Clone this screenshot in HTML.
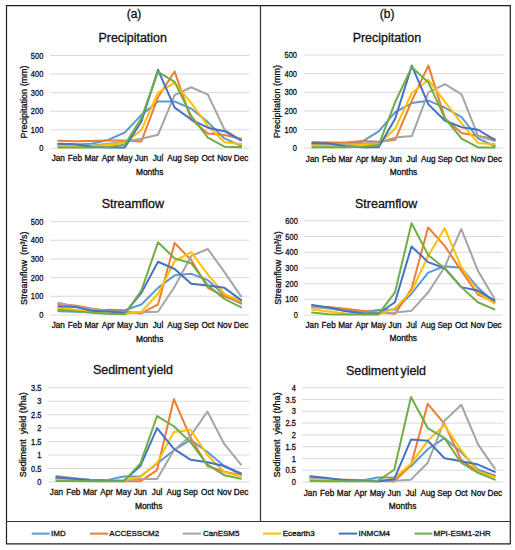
<!DOCTYPE html><html><head><meta charset="utf-8"><style>html,body{margin:0;padding:0;background:#fff;}svg{display:block;}text{white-space:pre;font-family:"Liberation Sans", sans-serif;fill:#111;stroke:#111;}.sm{stroke-width:0.3px}.ti{stroke-width:0.3px;word-spacing:-1.5px}</style></head><body>
<svg width="515" height="550" viewBox="0 0 515 550">
<rect x="0" y="0" width="515" height="550" fill="#fff"/>
<text x="0" y="0" font-size="8.6" text-anchor="end" class="sm" transform="translate(43.3,151.4) scale(0.87,1)">0</text>
<text x="0" y="0" font-size="8.6" text-anchor="end" class="sm" transform="translate(43.3,132.84) scale(0.87,1)">100</text>
<text x="0" y="0" font-size="8.6" text-anchor="end" class="sm" transform="translate(43.3,114.28) scale(0.87,1)">200</text>
<text x="0" y="0" font-size="8.6" text-anchor="end" class="sm" transform="translate(43.3,95.72) scale(0.87,1)">300</text>
<text x="0" y="0" font-size="8.6" text-anchor="end" class="sm" transform="translate(43.3,77.16) scale(0.87,1)">400</text>
<text x="0" y="0" font-size="8.6" text-anchor="end" class="sm" transform="translate(43.3,58.6) scale(0.87,1)">500</text>
<g stroke="#D9D9D9" stroke-width="1.0"><line x1="50" y1="148.3" x2="249.4" y2="148.3"/><line x1="50" y1="129.74" x2="249.4" y2="129.74"/><line x1="50" y1="111.18" x2="249.4" y2="111.18"/><line x1="50" y1="92.62" x2="249.4" y2="92.62"/><line x1="50" y1="74.06" x2="249.4" y2="74.06"/><line x1="50" y1="55.5" x2="249.4" y2="55.5"/></g>
<text x="58.31" y="161.4" font-size="8.2" text-anchor="middle" class="sm">Jan</text>
<text x="74.92" y="161.4" font-size="8.2" text-anchor="middle" class="sm">Feb</text>
<text x="91.54" y="161.4" font-size="8.2" text-anchor="middle" class="sm">Mar</text>
<text x="108.16" y="161.4" font-size="8.2" text-anchor="middle" class="sm">Apr</text>
<text x="124.78" y="161.4" font-size="8.2" text-anchor="middle" class="sm">May</text>
<text x="141.39" y="161.4" font-size="8.2" text-anchor="middle" class="sm">Jun</text>
<text x="158.01" y="161.4" font-size="8.2" text-anchor="middle" class="sm">Jul</text>
<text x="174.62" y="161.4" font-size="8.2" text-anchor="middle" class="sm">Aug</text>
<text x="191.24" y="161.4" font-size="8.2" text-anchor="middle" class="sm">Sep</text>
<text x="207.86" y="161.4" font-size="8.2" text-anchor="middle" class="sm">Oct</text>
<text x="224.47" y="161.4" font-size="8.2" text-anchor="middle" class="sm">Nov</text>
<text x="241.09" y="161.4" font-size="8.2" text-anchor="middle" class="sm">Dec</text>
<polyline points="58.31,144.22 74.92,144.59 91.54,143.66 108.16,139.95 124.78,132.52 141.39,114.89 158.01,101.53 174.62,101.53 191.24,108.58 207.86,122.13 224.47,138.46 241.09,145.89" fill="none" stroke="#5B9BD5" stroke-width="2.0" stroke-linejoin="round" stroke-linecap="round"/>
<polyline points="58.31,140.69 74.92,141.25 91.54,140.88 108.16,140.5 124.78,140.5 141.39,141.43 158.01,97.26 174.62,71.46 191.24,119.53 207.86,133.45 224.47,134.94 241.09,138.83" fill="none" stroke="#ED7D31" stroke-width="2.0" stroke-linejoin="round" stroke-linecap="round"/>
<polyline points="58.31,146.07 74.92,146.07 91.54,145.52 108.16,143.66 124.78,141.43 141.39,138.83 158.01,134.75 174.62,95.03 191.24,87.24 207.86,94.66 224.47,129.55 241.09,140.32" fill="none" stroke="#A5A5A5" stroke-width="2.0" stroke-linejoin="round" stroke-linecap="round"/>
<polyline points="58.31,145.52 74.92,145.89 91.54,146.26 108.16,144.77 124.78,142.73 141.39,130.11 158.01,92.62 174.62,82.6 191.24,103.01 207.86,125.84 224.47,142.18 241.09,144.03" fill="none" stroke="#FFC000" stroke-width="2.0" stroke-linejoin="round" stroke-linecap="round"/>
<polyline points="58.31,143.85 74.92,144.22 91.54,146.82 108.16,147.56 124.78,147.56 141.39,121.57 158.01,69.79 174.62,107.65 191.24,119.53 207.86,127.7 224.47,131.22 241.09,140.32" fill="none" stroke="#4472C4" stroke-width="2.0" stroke-linejoin="round" stroke-linecap="round"/>
<polyline points="58.31,147.56 74.92,147.56 91.54,147.56 108.16,147 124.78,144.77 141.39,118.05 158.01,71.83 174.62,81.86 191.24,115.82 207.86,137.72 224.47,146.63 241.09,147.37" fill="none" stroke="#70AD47" stroke-width="2.0" stroke-linejoin="round" stroke-linecap="round"/>
<text x="132.7" y="42" font-size="12.45" text-anchor="middle" class="ti">Precipitation</text>
<text x="149.7" y="174.7" font-size="8.4" text-anchor="middle" class="sm">Months</text>
<text x="0" y="0" font-size="9.0" text-anchor="middle" class="sm" transform="translate(26.87,101.9) rotate(-90)">Precipitation (mm)</text>
<text x="134" y="18.2" font-size="12.0" text-anchor="middle" class="ti">(a)</text>
<text x="0" y="0" font-size="8.6" text-anchor="end" class="sm" transform="translate(43.3,318) scale(0.87,1)">0</text>
<text x="0" y="0" font-size="8.6" text-anchor="end" class="sm" transform="translate(43.3,299.34) scale(0.87,1)">100</text>
<text x="0" y="0" font-size="8.6" text-anchor="end" class="sm" transform="translate(43.3,280.68) scale(0.87,1)">200</text>
<text x="0" y="0" font-size="8.6" text-anchor="end" class="sm" transform="translate(43.3,262.02) scale(0.87,1)">300</text>
<text x="0" y="0" font-size="8.6" text-anchor="end" class="sm" transform="translate(43.3,243.36) scale(0.87,1)">400</text>
<text x="0" y="0" font-size="8.6" text-anchor="end" class="sm" transform="translate(43.3,224.7) scale(0.87,1)">500</text>
<g stroke="#D9D9D9" stroke-width="1.0"><line x1="50" y1="314.9" x2="249.4" y2="314.9"/><line x1="50" y1="296.24" x2="249.4" y2="296.24"/><line x1="50" y1="277.58" x2="249.4" y2="277.58"/><line x1="50" y1="258.92" x2="249.4" y2="258.92"/><line x1="50" y1="240.26" x2="249.4" y2="240.26"/><line x1="50" y1="221.6" x2="249.4" y2="221.6"/></g>
<text x="58.31" y="328.2" font-size="8.2" text-anchor="middle" class="sm">Jan</text>
<text x="74.92" y="328.2" font-size="8.2" text-anchor="middle" class="sm">Feb</text>
<text x="91.54" y="328.2" font-size="8.2" text-anchor="middle" class="sm">Mar</text>
<text x="108.16" y="328.2" font-size="8.2" text-anchor="middle" class="sm">Apr</text>
<text x="124.78" y="328.2" font-size="8.2" text-anchor="middle" class="sm">May</text>
<text x="141.39" y="328.2" font-size="8.2" text-anchor="middle" class="sm">Jun</text>
<text x="158.01" y="328.2" font-size="8.2" text-anchor="middle" class="sm">Jul</text>
<text x="174.62" y="328.2" font-size="8.2" text-anchor="middle" class="sm">Aug</text>
<text x="191.24" y="328.2" font-size="8.2" text-anchor="middle" class="sm">Sep</text>
<text x="207.86" y="328.2" font-size="8.2" text-anchor="middle" class="sm">Oct</text>
<text x="224.47" y="328.2" font-size="8.2" text-anchor="middle" class="sm">Nov</text>
<text x="241.09" y="328.2" font-size="8.2" text-anchor="middle" class="sm">Dec</text>
<polyline points="58.31,311.17 74.92,311.73 91.54,311.54 108.16,309.68 124.78,310.23 141.39,304.45 158.01,287.84 174.62,275.34 191.24,273.85 207.86,280.19 224.47,295.31 241.09,303.7" fill="none" stroke="#5B9BD5" stroke-width="2.0" stroke-linejoin="round" stroke-linecap="round"/>
<polyline points="58.31,304.08 74.92,305.57 91.54,308.37 108.16,310.79 124.78,311.73 141.39,313.41 158.01,304.45 174.62,243.06 191.24,260.04 207.86,287.84 224.47,296.43 241.09,302.58" fill="none" stroke="#ED7D31" stroke-width="2.0" stroke-linejoin="round" stroke-linecap="round"/>
<polyline points="58.31,302.77 74.92,306.5 91.54,309.3 108.16,311.17 124.78,312.66 141.39,312.29 158.01,311.73 174.62,286.72 191.24,255.93 207.86,249.03 224.47,272.17 241.09,296.43" fill="none" stroke="#A5A5A5" stroke-width="2.0" stroke-linejoin="round" stroke-linecap="round"/>
<polyline points="58.31,307.81 74.92,309.86 91.54,312.1 108.16,313.41 124.78,313.97 141.39,311.73 158.01,294 174.62,261.16 191.24,252.02 207.86,274.59 224.47,294 241.09,301.28" fill="none" stroke="#FFC000" stroke-width="2.0" stroke-linejoin="round" stroke-linecap="round"/>
<polyline points="58.31,306.13 74.92,306.88 91.54,310.79 108.16,311.54 124.78,313.03 141.39,292.88 158.01,261.72 174.62,269 191.24,283.74 207.86,285.42 224.47,287.84 241.09,300.16" fill="none" stroke="#4472C4" stroke-width="2.0" stroke-linejoin="round" stroke-linecap="round"/>
<polyline points="58.31,309.86 74.92,311.17 91.54,312.66 108.16,313.78 124.78,314.15 141.39,290.46 158.01,242.31 174.62,258.36 191.24,263.21 207.86,285.42 224.47,298.85 241.09,307.44" fill="none" stroke="#70AD47" stroke-width="2.0" stroke-linejoin="round" stroke-linecap="round"/>
<text x="132.8" y="207.5" font-size="12.45" text-anchor="middle" class="ti">Streamflow</text>
<text x="149.7" y="341.6" font-size="8.4" text-anchor="middle" class="sm">Months</text>
<text x="0" y="0" font-size="9.0" text-anchor="middle" class="sm" transform="translate(26.67,268.25) rotate(-90)">Streamflow  (m³/s)</text>
<text x="0" y="0" font-size="8.6" text-anchor="end" class="sm" transform="translate(41.5,485) scale(0.87,1)">0</text>
<text x="0" y="0" font-size="8.6" text-anchor="end" class="sm" transform="translate(41.5,471.55) scale(0.87,1)">0.5</text>
<text x="0" y="0" font-size="8.6" text-anchor="end" class="sm" transform="translate(41.5,458.11) scale(0.87,1)">1</text>
<text x="0" y="0" font-size="8.6" text-anchor="end" class="sm" transform="translate(41.5,444.67) scale(0.87,1)">1.5</text>
<text x="0" y="0" font-size="8.6" text-anchor="end" class="sm" transform="translate(41.5,431.22) scale(0.87,1)">2</text>
<text x="0" y="0" font-size="8.6" text-anchor="end" class="sm" transform="translate(41.5,417.78) scale(0.87,1)">2.5</text>
<text x="0" y="0" font-size="8.6" text-anchor="end" class="sm" transform="translate(41.5,404.34) scale(0.87,1)">3</text>
<text x="0" y="0" font-size="8.6" text-anchor="end" class="sm" transform="translate(41.5,390.9) scale(0.87,1)">3.5</text>
<g stroke="#D9D9D9" stroke-width="1.0"><line x1="48" y1="481.9" x2="249.4" y2="481.9"/><line x1="48" y1="468.46" x2="249.4" y2="468.46"/><line x1="48" y1="455.01" x2="249.4" y2="455.01"/><line x1="48" y1="441.57" x2="249.4" y2="441.57"/><line x1="48" y1="428.13" x2="249.4" y2="428.13"/><line x1="48" y1="414.69" x2="249.4" y2="414.69"/><line x1="48" y1="401.24" x2="249.4" y2="401.24"/><line x1="48" y1="387.8" x2="249.4" y2="387.8"/></g>
<text x="56.39" y="495.3" font-size="8.2" text-anchor="middle" class="sm">Jan</text>
<text x="73.18" y="495.3" font-size="8.2" text-anchor="middle" class="sm">Feb</text>
<text x="89.96" y="495.3" font-size="8.2" text-anchor="middle" class="sm">Mar</text>
<text x="106.74" y="495.3" font-size="8.2" text-anchor="middle" class="sm">Apr</text>
<text x="123.53" y="495.3" font-size="8.2" text-anchor="middle" class="sm">May</text>
<text x="140.31" y="495.3" font-size="8.2" text-anchor="middle" class="sm">Jun</text>
<text x="157.09" y="495.3" font-size="8.2" text-anchor="middle" class="sm">Jul</text>
<text x="173.88" y="495.3" font-size="8.2" text-anchor="middle" class="sm">Aug</text>
<text x="190.66" y="495.3" font-size="8.2" text-anchor="middle" class="sm">Sep</text>
<text x="207.44" y="495.3" font-size="8.2" text-anchor="middle" class="sm">Oct</text>
<text x="224.23" y="495.3" font-size="8.2" text-anchor="middle" class="sm">Nov</text>
<text x="241.01" y="495.3" font-size="8.2" text-anchor="middle" class="sm">Dec</text>
<polyline points="56.39,477.87 73.18,478.67 89.96,479.75 106.74,480.29 123.53,476.52 140.31,476.52 157.09,463.62 173.88,450.17 190.66,439.96 207.44,452.06 224.23,466.04 241.01,474.64" fill="none" stroke="#5B9BD5" stroke-width="2.0" stroke-linejoin="round" stroke-linecap="round"/>
<polyline points="56.39,479.21 73.18,479.75 89.96,480.29 106.74,480.82 123.53,481.36 140.31,481.36 157.09,470.07 173.88,399.09 190.66,437.81 207.44,466.04 224.23,471.68 241.01,475.18" fill="none" stroke="#ED7D31" stroke-width="2.0" stroke-linejoin="round" stroke-linecap="round"/>
<polyline points="56.39,475.99 73.18,477.87 89.96,479.75 106.74,480.56 123.53,480.56 140.31,478.94 157.09,478.94 173.88,450.17 190.66,435.93 207.44,411.46 224.23,443.99 241.01,464.69" fill="none" stroke="#A5A5A5" stroke-width="2.0" stroke-linejoin="round" stroke-linecap="round"/>
<polyline points="56.39,480.02 73.18,480.56 89.96,481.09 106.74,481.36 123.53,480.56 140.31,477.06 157.09,463.08 173.88,431.89 190.66,430.01 207.44,455.01 224.23,472.22 241.01,476.25" fill="none" stroke="#FFC000" stroke-width="2.0" stroke-linejoin="round" stroke-linecap="round"/>
<polyline points="56.39,477.33 73.18,478.67 89.96,480.29 106.74,480.82 123.53,481.09 140.31,466.04 157.09,428.13 173.88,448.83 190.66,459.85 207.44,462.27 224.23,466.04 241.01,473.3" fill="none" stroke="#4472C4" stroke-width="2.0" stroke-linejoin="round" stroke-linecap="round"/>
<polyline points="56.39,481.09 73.18,481.09 89.96,481.36 106.74,481.36 123.53,481.36 140.31,463.62 157.09,416.03 173.88,426.25 190.66,442.38 207.44,464.69 224.23,475.18 241.01,478.67" fill="none" stroke="#70AD47" stroke-width="2.0" stroke-linejoin="round" stroke-linecap="round"/>
<text x="133" y="374" font-size="12.45" text-anchor="middle" class="ti">Sediment yield</text>
<text x="148.7" y="509.1" font-size="8.4" text-anchor="middle" class="sm">Months</text>
<text x="0" y="0" font-size="9.0" text-anchor="middle" class="sm" transform="translate(26.47,434.85) rotate(-90)">Sediment  yield (t/ha)</text>
<text x="0" y="0" font-size="8.6" text-anchor="end" class="sm" transform="translate(297,151.3) scale(0.87,1)">0</text>
<text x="0" y="0" font-size="8.6" text-anchor="end" class="sm" transform="translate(297,132.66) scale(0.87,1)">100</text>
<text x="0" y="0" font-size="8.6" text-anchor="end" class="sm" transform="translate(297,114.02) scale(0.87,1)">200</text>
<text x="0" y="0" font-size="8.6" text-anchor="end" class="sm" transform="translate(297,95.38) scale(0.87,1)">300</text>
<text x="0" y="0" font-size="8.6" text-anchor="end" class="sm" transform="translate(297,76.74) scale(0.87,1)">400</text>
<text x="0" y="0" font-size="8.6" text-anchor="end" class="sm" transform="translate(297,58.1) scale(0.87,1)">500</text>
<g stroke="#D9D9D9" stroke-width="1.0"><line x1="304.1" y1="148.2" x2="503" y2="148.2"/><line x1="304.1" y1="129.56" x2="503" y2="129.56"/><line x1="304.1" y1="110.92" x2="503" y2="110.92"/><line x1="304.1" y1="92.28" x2="503" y2="92.28"/><line x1="304.1" y1="73.64" x2="503" y2="73.64"/><line x1="304.1" y1="55" x2="503" y2="55"/></g>
<text x="312.39" y="161.6" font-size="8.2" text-anchor="middle" class="sm">Jan</text>
<text x="328.96" y="161.6" font-size="8.2" text-anchor="middle" class="sm">Feb</text>
<text x="345.54" y="161.6" font-size="8.2" text-anchor="middle" class="sm">Mar</text>
<text x="362.11" y="161.6" font-size="8.2" text-anchor="middle" class="sm">Apr</text>
<text x="378.69" y="161.6" font-size="8.2" text-anchor="middle" class="sm">May</text>
<text x="395.26" y="161.6" font-size="8.2" text-anchor="middle" class="sm">Jun</text>
<text x="411.84" y="161.6" font-size="8.2" text-anchor="middle" class="sm">Jul</text>
<text x="428.41" y="161.6" font-size="8.2" text-anchor="middle" class="sm">Aug</text>
<text x="444.99" y="161.6" font-size="8.2" text-anchor="middle" class="sm">Sep</text>
<text x="461.56" y="161.6" font-size="8.2" text-anchor="middle" class="sm">Oct</text>
<text x="478.14" y="161.6" font-size="8.2" text-anchor="middle" class="sm">Nov</text>
<text x="494.71" y="161.6" font-size="8.2" text-anchor="middle" class="sm">Dec</text>
<polyline points="312.39,143.73 328.96,144.1 345.54,144.47 362.11,141.68 378.69,131.42 395.26,112.04 411.84,103.09 428.41,100.67 444.99,107.75 461.56,117.07 478.14,138.51 494.71,146.15" fill="none" stroke="#5B9BD5" stroke-width="2.0" stroke-linejoin="round" stroke-linecap="round"/>
<polyline points="312.39,142.05 328.96,142.61 345.54,142.61 362.11,141.12 378.69,141.68 395.26,139.81 411.84,100.67 428.41,65.62 444.99,118.38 461.56,132.92 478.14,136.08 494.71,139.07" fill="none" stroke="#ED7D31" stroke-width="2.0" stroke-linejoin="round" stroke-linecap="round"/>
<polyline points="312.39,145.4 328.96,145.4 345.54,144.47 362.11,143.54 378.69,142.79 395.26,137.39 411.84,136.08 428.41,92.47 444.99,84.08 461.56,94.33 478.14,136.08 494.71,141.12" fill="none" stroke="#A5A5A5" stroke-width="2.0" stroke-linejoin="round" stroke-linecap="round"/>
<polyline points="312.39,145.03 328.96,145.4 345.54,145.96 362.11,144.84 378.69,144.29 395.26,128.44 411.84,93.03 428.41,79.79 444.99,101.79 461.56,123.41 478.14,143.17 494.71,144.1" fill="none" stroke="#FFC000" stroke-width="2.0" stroke-linejoin="round" stroke-linecap="round"/>
<polyline points="312.39,143.17 328.96,143.54 345.54,146.34 362.11,147.27 378.69,147.27 395.26,118.38 411.84,65.62 428.41,104.4 444.99,120.8 461.56,127.14 478.14,129.75 494.71,139.81" fill="none" stroke="#4472C4" stroke-width="2.0" stroke-linejoin="round" stroke-linecap="round"/>
<polyline points="312.39,147.27 328.96,147.27 345.54,147.27 362.11,146.71 378.69,145.03 395.26,101.79 411.84,67.12 428.41,82.4 444.99,118.38 461.56,138.51 478.14,147.45 494.71,147.45" fill="none" stroke="#70AD47" stroke-width="2.0" stroke-linejoin="round" stroke-linecap="round"/>
<text x="386.9" y="41.8" font-size="12.45" text-anchor="middle" class="ti">Precipitation</text>
<text x="403.55" y="174.6" font-size="8.4" text-anchor="middle" class="sm">Months</text>
<text x="0" y="0" font-size="9.0" text-anchor="middle" class="sm" transform="translate(279.97,101.6) rotate(-90)">Precipitation (mm)</text>
<text x="387.2" y="18.2" font-size="12.0" text-anchor="middle" class="ti">(b)</text>
<text x="0" y="0" font-size="8.6" text-anchor="end" class="sm" transform="translate(297.8,318.2) scale(0.87,1)">0</text>
<text x="0" y="0" font-size="8.6" text-anchor="end" class="sm" transform="translate(297.8,302.48) scale(0.87,1)">100</text>
<text x="0" y="0" font-size="8.6" text-anchor="end" class="sm" transform="translate(297.8,286.76) scale(0.87,1)">200</text>
<text x="0" y="0" font-size="8.6" text-anchor="end" class="sm" transform="translate(297.8,271.05) scale(0.87,1)">300</text>
<text x="0" y="0" font-size="8.6" text-anchor="end" class="sm" transform="translate(297.8,255.33) scale(0.87,1)">400</text>
<text x="0" y="0" font-size="8.6" text-anchor="end" class="sm" transform="translate(297.8,239.61) scale(0.87,1)">500</text>
<text x="0" y="0" font-size="8.6" text-anchor="end" class="sm" transform="translate(297.8,223.9) scale(0.87,1)">600</text>
<g stroke="#D9D9D9" stroke-width="1.0"><line x1="303.8" y1="315.1" x2="502.7" y2="315.1"/><line x1="303.8" y1="299.38" x2="502.7" y2="299.38"/><line x1="303.8" y1="283.67" x2="502.7" y2="283.67"/><line x1="303.8" y1="267.95" x2="502.7" y2="267.95"/><line x1="303.8" y1="252.23" x2="502.7" y2="252.23"/><line x1="303.8" y1="236.52" x2="502.7" y2="236.52"/><line x1="303.8" y1="220.8" x2="502.7" y2="220.8"/></g>
<text x="312.09" y="328.1" font-size="8.2" text-anchor="middle" class="sm">Jan</text>
<text x="328.66" y="328.1" font-size="8.2" text-anchor="middle" class="sm">Feb</text>
<text x="345.24" y="328.1" font-size="8.2" text-anchor="middle" class="sm">Mar</text>
<text x="361.81" y="328.1" font-size="8.2" text-anchor="middle" class="sm">Apr</text>
<text x="378.39" y="328.1" font-size="8.2" text-anchor="middle" class="sm">May</text>
<text x="394.96" y="328.1" font-size="8.2" text-anchor="middle" class="sm">Jun</text>
<text x="411.54" y="328.1" font-size="8.2" text-anchor="middle" class="sm">Jul</text>
<text x="428.11" y="328.1" font-size="8.2" text-anchor="middle" class="sm">Aug</text>
<text x="444.69" y="328.1" font-size="8.2" text-anchor="middle" class="sm">Sep</text>
<text x="461.26" y="328.1" font-size="8.2" text-anchor="middle" class="sm">Oct</text>
<text x="477.84" y="328.1" font-size="8.2" text-anchor="middle" class="sm">Nov</text>
<text x="494.41" y="328.1" font-size="8.2" text-anchor="middle" class="sm">Dec</text>
<polyline points="312.09,305.98 328.66,308.03 345.24,310.39 361.81,312.11 378.39,310.07 394.96,309.44 411.54,293.73 428.11,272.67 444.69,266.22 461.26,267.79 477.84,287.6 494.41,302.21" fill="none" stroke="#5B9BD5" stroke-width="2.0" stroke-linejoin="round" stroke-linecap="round"/>
<polyline points="312.09,307.4 328.66,307.08 345.24,308.81 361.81,310.86 378.39,312.43 394.96,313.84 411.54,288.85 428.11,227.4 444.69,245.95 461.26,270.62 477.84,294.51 494.41,301.74" fill="none" stroke="#ED7D31" stroke-width="2.0" stroke-linejoin="round" stroke-linecap="round"/>
<polyline points="312.09,307.08 328.66,308.5 345.24,310.7 361.81,312.74 378.39,313.53 394.96,312.43 411.54,310.7 428.11,292.47 444.69,267.01 461.26,228.82 477.84,270.62 494.41,298.6" fill="none" stroke="#A5A5A5" stroke-width="2.0" stroke-linejoin="round" stroke-linecap="round"/>
<polyline points="312.09,309.44 328.66,311.49 345.24,313.53 361.81,314.16 378.39,314.31 394.96,308.34 411.54,291.37 428.11,256.01 444.69,228.19 461.26,267.01 477.84,292.47 494.41,303.47" fill="none" stroke="#FFC000" stroke-width="2.0" stroke-linejoin="round" stroke-linecap="round"/>
<polyline points="312.09,305.04 328.66,307.4 345.24,311.01 361.81,313.21 378.39,313.53 394.96,302.21 411.54,246.42 428.11,262.13 444.69,268.26 461.26,287.12 477.84,290.58 494.41,300.33" fill="none" stroke="#4472C4" stroke-width="2.0" stroke-linejoin="round" stroke-linecap="round"/>
<polyline points="312.09,312.43 328.66,314.16 345.24,314.47 361.81,314.47 378.39,314.47 394.96,292.47 411.54,223.31 428.11,254.91 444.69,268.26 461.26,287.12 477.84,302.21 494.41,309.44" fill="none" stroke="#70AD47" stroke-width="2.0" stroke-linejoin="round" stroke-linecap="round"/>
<text x="386.2" y="207.6" font-size="12.45" text-anchor="middle" class="ti">Streamflow</text>
<text x="403.25" y="341.3" font-size="8.4" text-anchor="middle" class="sm">Months</text>
<text x="0" y="0" font-size="9.0" text-anchor="middle" class="sm" transform="translate(280.57,267.95) rotate(-90)">Streamflow  (m³/s)</text>
<text x="0" y="0" font-size="8.6" text-anchor="end" class="sm" transform="translate(296,485.1) scale(0.87,1)">0</text>
<text x="0" y="0" font-size="8.6" text-anchor="end" class="sm" transform="translate(296,473.32) scale(0.87,1)">0.5</text>
<text x="0" y="0" font-size="8.6" text-anchor="end" class="sm" transform="translate(296,461.55) scale(0.87,1)">1</text>
<text x="0" y="0" font-size="8.6" text-anchor="end" class="sm" transform="translate(296,449.77) scale(0.87,1)">1.5</text>
<text x="0" y="0" font-size="8.6" text-anchor="end" class="sm" transform="translate(296,438) scale(0.87,1)">2</text>
<text x="0" y="0" font-size="8.6" text-anchor="end" class="sm" transform="translate(296,426.22) scale(0.87,1)">2.5</text>
<text x="0" y="0" font-size="8.6" text-anchor="end" class="sm" transform="translate(296,414.45) scale(0.87,1)">3</text>
<text x="0" y="0" font-size="8.6" text-anchor="end" class="sm" transform="translate(296,402.67) scale(0.87,1)">3.5</text>
<text x="0" y="0" font-size="8.6" text-anchor="end" class="sm" transform="translate(296,390.9) scale(0.87,1)">4</text>
<g stroke="#D9D9D9" stroke-width="1.0"><line x1="302" y1="482" x2="503.2" y2="482"/><line x1="302" y1="470.23" x2="503.2" y2="470.23"/><line x1="302" y1="458.45" x2="503.2" y2="458.45"/><line x1="302" y1="446.68" x2="503.2" y2="446.68"/><line x1="302" y1="434.9" x2="503.2" y2="434.9"/><line x1="302" y1="423.12" x2="503.2" y2="423.12"/><line x1="302" y1="411.35" x2="503.2" y2="411.35"/><line x1="302" y1="399.58" x2="503.2" y2="399.58"/><line x1="302" y1="387.8" x2="503.2" y2="387.8"/></g>
<text x="310.38" y="495.9" font-size="8.2" text-anchor="middle" class="sm">Jan</text>
<text x="327.15" y="495.9" font-size="8.2" text-anchor="middle" class="sm">Feb</text>
<text x="343.92" y="495.9" font-size="8.2" text-anchor="middle" class="sm">Mar</text>
<text x="360.68" y="495.9" font-size="8.2" text-anchor="middle" class="sm">Apr</text>
<text x="377.45" y="495.9" font-size="8.2" text-anchor="middle" class="sm">May</text>
<text x="394.22" y="495.9" font-size="8.2" text-anchor="middle" class="sm">Jun</text>
<text x="410.98" y="495.9" font-size="8.2" text-anchor="middle" class="sm">Jul</text>
<text x="427.75" y="495.9" font-size="8.2" text-anchor="middle" class="sm">Aug</text>
<text x="444.52" y="495.9" font-size="8.2" text-anchor="middle" class="sm">Sep</text>
<text x="461.28" y="495.9" font-size="8.2" text-anchor="middle" class="sm">Oct</text>
<text x="478.05" y="495.9" font-size="8.2" text-anchor="middle" class="sm">Nov</text>
<text x="494.82" y="495.9" font-size="8.2" text-anchor="middle" class="sm">Dec</text>
<polyline points="310.38,477.53 327.15,478.7 343.92,480.12 360.68,480.82 377.45,477.53 394.22,477.29 410.98,466.22 427.75,449.27 444.52,438.2 461.28,452.33 478.05,469.75 494.82,475.41" fill="none" stroke="#5B9BD5" stroke-width="2.0" stroke-linejoin="round" stroke-linecap="round"/>
<polyline points="310.38,478.94 327.15,479.64 343.92,479.64 360.68,480.12 377.45,481.06 394.22,481.53 410.98,465.04 427.75,403.81 444.52,423.83 461.28,460.1 478.05,471.87 494.82,475.88" fill="none" stroke="#ED7D31" stroke-width="2.0" stroke-linejoin="round" stroke-linecap="round"/>
<polyline points="310.38,478 327.15,479.17 343.92,480.35 360.68,480.82 377.45,480.82 394.22,480.82 410.98,479.64 427.75,462.69 444.52,420.77 461.28,404.76 478.05,444.32 494.82,468.58" fill="none" stroke="#A5A5A5" stroke-width="2.0" stroke-linejoin="round" stroke-linecap="round"/>
<polyline points="310.38,479.64 327.15,480.35 343.92,480.82 360.68,481.06 377.45,480.82 394.22,478.47 410.98,463.87 427.75,440.79 444.52,425.01 461.28,450.44 478.05,471.87 494.82,477.05" fill="none" stroke="#FFC000" stroke-width="2.0" stroke-linejoin="round" stroke-linecap="round"/>
<polyline points="310.38,476.35 327.15,478 343.92,480.12 360.68,480.82 377.45,481.53 394.22,479.17 410.98,439.61 427.75,440.79 444.52,458.21 461.28,461.28 478.05,464.57 494.82,471.87" fill="none" stroke="#4472C4" stroke-width="2.0" stroke-linejoin="round" stroke-linecap="round"/>
<polyline points="310.38,481.06 327.15,481.29 343.92,481.29 360.68,481.29 377.45,481.06 394.22,469.75 410.98,396.98 427.75,428.07 444.52,438.2 461.28,462.69 478.05,472.82 494.82,479.64" fill="none" stroke="#70AD47" stroke-width="2.0" stroke-linejoin="round" stroke-linecap="round"/>
<text x="386" y="374.7" font-size="12.45" text-anchor="middle" class="ti">Sediment yield</text>
<text x="402.6" y="509.1" font-size="8.4" text-anchor="middle" class="sm">Months</text>
<text x="0" y="0" font-size="9.0" text-anchor="middle" class="sm" transform="translate(280.37,434.9) rotate(-90)">Sediment  yield (t/ha)</text>
<g stroke="#1f1f1f" stroke-width="1.2" fill="none">
<path d="M6.5 5.6 H510.3 V543.8 H6.5 Z"/>
<line x1="260.5" y1="5.6" x2="260.5" y2="521.5" stroke="#333"/>
<line x1="6.5" y1="521.5" x2="510.3" y2="521.5" stroke="#333"/>
</g>
<line x1="31.7" y1="533.6" x2="49.8" y2="533.6" stroke="#5B9BD5" stroke-width="2"/>
<text x="51" y="536.4" font-size="8.0" class="sm">IMD</text>
<line x1="90" y1="533.6" x2="108" y2="533.6" stroke="#ED7D31" stroke-width="2"/>
<text x="109.3" y="536.4" font-size="8.0" class="sm">ACCESSCM2</text>
<line x1="182.8" y1="533.6" x2="201" y2="533.6" stroke="#A5A5A5" stroke-width="2"/>
<text x="203" y="536.4" font-size="8.0" class="sm">CanESM5</text>
<line x1="263" y1="533.6" x2="281.5" y2="533.6" stroke="#FFC000" stroke-width="2"/>
<text x="282.7" y="536.4" font-size="8.0" class="sm">Ecearth3</text>
<line x1="338.8" y1="533.6" x2="357.2" y2="533.6" stroke="#4472C4" stroke-width="2"/>
<text x="358.5" y="536.4" font-size="8.0" class="sm">INMCM4</text>
<line x1="414.6" y1="533.6" x2="432.3" y2="533.6" stroke="#70AD47" stroke-width="2"/>
<text x="433.5" y="536.4" font-size="8.0" class="sm">MPI-ESM1-2HR</text>
</svg></body></html>
